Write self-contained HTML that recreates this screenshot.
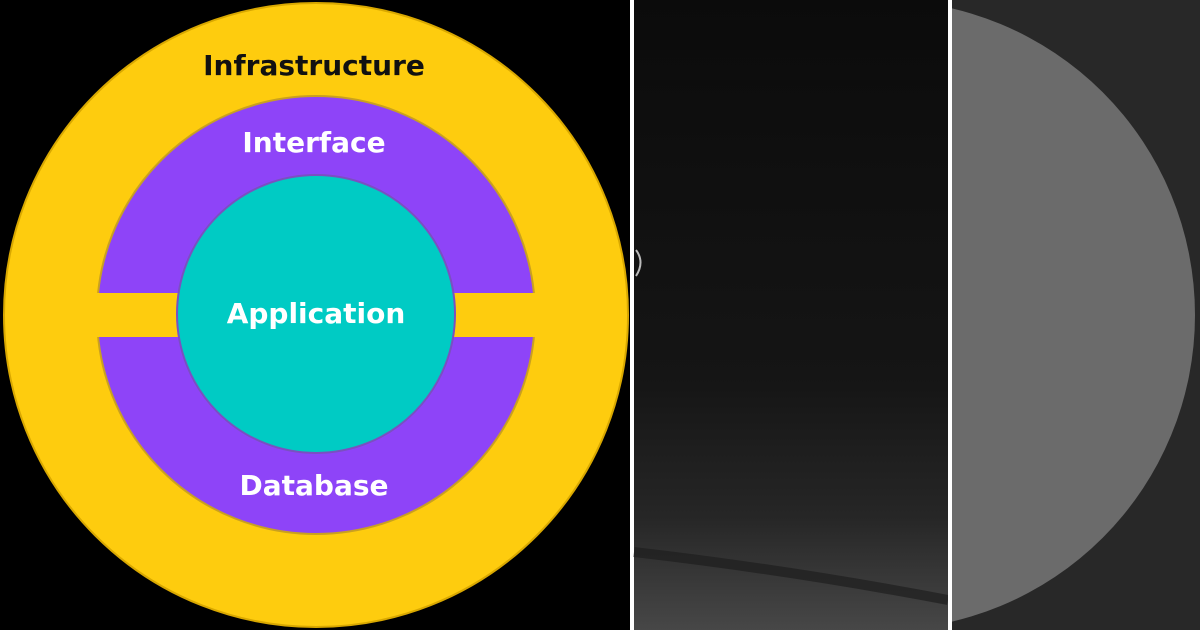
<!DOCTYPE html>
<html><head><style>
html,body{margin:0;padding:0;background:#000;}
svg{display:block;}
text{font-family:"DejaVu Sans","Liberation Sans",sans-serif;font-weight:bold;}
</style></head><body>
<svg width="1200" height="630" viewBox="0 0 1200 630" xmlns="http://www.w3.org/2000/svg">
<defs>
<linearGradient id="dk" x1="0" y1="0" x2="0" y2="1">
<stop offset="0" stop-color="#0b0b0b"/>
<stop offset="0.6" stop-color="#151515"/>
<stop offset="0.82" stop-color="#262626"/>
<stop offset="1" stop-color="#474747"/>
</linearGradient>
<clipPath id="cp"><rect x="952" y="0" width="248" height="630"/></clipPath>
</defs>
<rect width="1200" height="630" fill="#000"/>
<circle cx="316" cy="315" r="312" fill="#fecc0e" stroke="#d9a800" stroke-width="2"/>
<circle cx="316" cy="315" r="219" fill="#8e44f8" stroke="#c9a020" stroke-width="2"/>
<rect x="96" y="293" width="440" height="44" fill="#fecc0e"/>
<circle cx="316" cy="314" r="139" fill="#00cbc4" stroke="#7a50c0" stroke-width="2"/>
<text x="314" y="75" font-size="28" text-anchor="middle" fill="#111">Infrastructure</text>
<text x="314" y="152" font-size="28" text-anchor="middle" fill="#fff">Interface</text>
<text x="316" y="323" font-size="28" text-anchor="middle" fill="#fff">Application</text>
<text x="314" y="495" font-size="28" text-anchor="middle" fill="#fff">Database</text>
<rect x="630" y="0" width="4" height="630" fill="#fff"/>
<rect x="634" y="0" width="314" height="630" fill="url(#dk)"/>
<path d="M634 552 Q790 570 948 600" stroke="#1e1e1e" stroke-width="10" fill="none" opacity="0.7"/>
<path d="M636 250 Q645 262 636 276" stroke="#bbb" stroke-width="2" fill="none"/>
<rect x="948" y="0" width="4" height="630" fill="#fff"/>
<rect x="952" y="0" width="248" height="630" fill="#282828"/>
<circle cx="880" cy="315" r="315" fill="#6b6b6b" clip-path="url(#cp)"/>
</svg>
</body></html>
